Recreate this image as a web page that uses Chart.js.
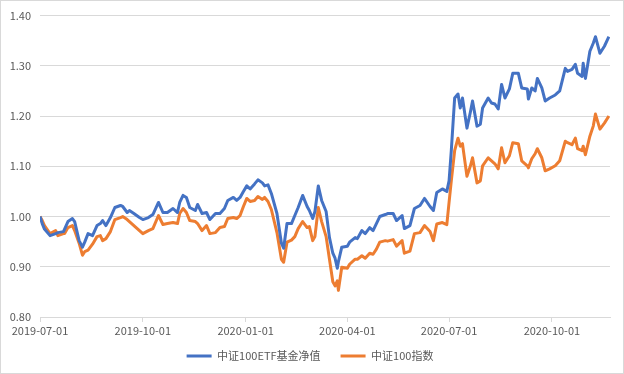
<!DOCTYPE html>
<html>
<head>
<meta charset="utf-8">
<title>中证100ETF基金净值</title>
<script src="https://cdn.jsdelivr.net/npm/chart.js@4"></script>
<style>
  html, body { margin: 0; padding: 0; background: #fff; }
  #wrap { width: 624px; height: 374px; position: relative; }
</style>
</head>
<body>
<div id="wrap"><canvas id="chart"></canvas></div>
<script>
// values (approximate)
const dates = [
  '2019-07-01','2019-07-03','2019-07-05','2019-07-10','2019-07-15','2019-07-17','2019-07-22','2019-07-23','2019-07-26','2019-07-30',
  '2019-08-01','2019-08-05','2019-08-08','2019-08-10','2019-08-13','2019-08-17','2019-08-21','2019-08-24','2019-08-26','2019-08-29',
  '2019-09-02','2019-09-06','2019-09-11','2019-09-13','2019-09-17','2019-09-19','2019-09-23','2019-09-28','2019-10-01','2019-10-06',
  '2019-10-10','2019-10-15','2019-10-19','2019-10-23','2019-10-28','2019-11-01','2019-11-03','2019-11-06','2019-11-09','2019-11-12',
  '2019-11-17','2019-11-19','2019-11-23','2019-11-27','2019-11-30','2019-12-05','2019-12-09','2019-12-13','2019-12-16','2019-12-21',
  '2019-12-24','2019-12-27','2019-12-30','2020-01-02','2020-01-05','2020-01-09','2020-01-12','2020-01-16','2020-01-18','2020-01-21',
  '2020-01-24','2020-01-29','2020-02-02','2020-02-04','2020-02-07','2020-02-11','2020-02-14','2020-02-17','2020-02-21','2020-02-25',
  '2020-02-27','2020-03-01','2020-03-03','2020-03-06','2020-03-09','2020-03-13','2020-03-16','2020-03-19','2020-03-21','2020-03-23',
  '2020-03-24','2020-03-27','2020-04-01','2020-04-03','2020-04-08','2020-04-10','2020-04-14','2020-04-17','2020-04-21','2020-04-24',
  '2020-04-27','2020-04-30','2020-05-05','2020-05-07','2020-05-12','2020-05-15','2020-05-20','2020-05-22','2020-05-27','2020-05-31',
  '2020-06-05','2020-06-09','2020-06-14','2020-06-17','2020-06-20','2020-06-25','2020-06-29','2020-07-01','2020-07-03','2020-07-06',
  '2020-07-09','2020-07-11','2020-07-13','2020-07-17','2020-07-20','2020-07-22','2020-07-26','2020-07-29','2020-07-31','2020-08-05',
  '2020-08-08','2020-08-11','2020-08-14','2020-08-17','2020-08-20','2020-08-24','2020-08-27','2020-09-01','2020-09-04','2020-09-09',
  '2020-09-10','2020-09-13','2020-09-16','2020-09-18','2020-09-22','2020-09-25','2020-09-29','2020-10-04','2020-10-08','2020-10-13',
  '2020-10-15','2020-10-19','2020-10-22','2020-10-24','2020-10-28','2020-10-29','2020-10-31','2020-11-04','2020-11-07','2020-11-09',
  '2020-11-13','2020-11-17','2020-11-21'
];

const etfNav = [
  1.000, 0.986, 0.975, 0.962, 0.966, 0.968, 0.970, 0.975, 0.990, 0.996,
  0.990, 0.952, 0.939, 0.949, 0.966, 0.962, 0.982, 0.986, 0.992, 0.982,
  0.998, 1.018, 1.022, 1.020, 1.008, 1.012, 1.006, 0.998, 0.994, 0.998,
  1.004, 1.028, 1.008, 1.008, 1.016, 1.008, 1.028, 1.042, 1.038, 1.018,
  1.012, 1.024, 1.006, 1.008, 0.994, 1.006, 1.006, 1.016, 1.032, 1.038,
  1.032, 1.038, 1.050, 1.061, 1.055, 1.065, 1.073, 1.067, 1.061, 1.063,
  1.046, 1.006, 0.947, 0.937, 0.986, 0.986, 1.002, 1.018, 1.042, 1.020,
  1.012, 0.996, 1.010, 1.061, 1.032, 1.010, 0.958, 0.927, 0.917, 0.897,
  0.910, 0.939, 0.941, 0.949, 0.958, 0.956, 0.972, 0.966, 0.978, 0.972,
  0.986, 1.000, 1.004, 1.006, 1.006, 0.992, 1.002, 0.976, 0.982, 1.016,
  1.022, 1.036, 1.020, 1.012, 1.048, 1.055, 1.050, 1.071, 1.131, 1.236,
  1.244, 1.216, 1.236, 1.176, 1.207, 1.230, 1.180, 1.184, 1.216, 1.236,
  1.226, 1.224, 1.214, 1.263, 1.236, 1.254, 1.285, 1.285, 1.256, 1.254,
  1.234, 1.256, 1.250, 1.275, 1.256, 1.230, 1.236, 1.242, 1.250, 1.295,
  1.289, 1.293, 1.303, 1.285, 1.279, 1.305, 1.275, 1.329, 1.345, 1.358,
  1.325, 1.339, 1.358
];

const indexValues = [
  1.000, 0.992, 0.982, 0.966, 0.972, 0.962, 0.966, 0.966, 0.978, 0.982,
  0.972, 0.947, 0.923, 0.930, 0.933, 0.945, 0.960, 0.962, 0.952, 0.956,
  0.970, 0.994, 0.998, 1.000, 0.994, 0.990, 0.982, 0.972, 0.966, 0.972,
  0.976, 1.002, 0.984, 0.986, 0.988, 0.986, 1.006, 1.016, 1.008, 0.992,
  0.990, 0.986, 0.972, 0.982, 0.966, 0.968, 0.978, 0.980, 0.996, 0.998,
  0.996, 1.002, 1.020, 1.036, 1.030, 1.032, 1.040, 1.034, 1.038, 1.030,
  1.014, 0.968, 0.915, 0.909, 0.949, 0.953, 0.960, 0.976, 0.990, 0.978,
  0.980, 0.952, 0.960, 1.018, 0.990, 0.960, 0.915, 0.870, 0.862, 0.872,
  0.853, 0.899, 0.897, 0.905, 0.915, 0.915, 0.922, 0.917, 0.927, 0.925,
  0.935, 0.949, 0.952, 0.951, 0.954, 0.941, 0.952, 0.927, 0.931, 0.966,
  0.968, 0.982, 0.970, 0.952, 0.985, 0.988, 0.984, 1.028, 1.071, 1.131,
  1.156, 1.140, 1.145, 1.080, 1.100, 1.117, 1.067, 1.071, 1.101, 1.117,
  1.111, 1.105, 1.095, 1.137, 1.107, 1.121, 1.147, 1.145, 1.111, 1.101,
  1.097, 1.115, 1.125, 1.135, 1.117, 1.091, 1.095, 1.101, 1.111, 1.150,
  1.147, 1.143, 1.156, 1.135, 1.131, 1.140, 1.123, 1.160, 1.180, 1.204,
  1.174, 1.186, 1.200
];

const seriesNames = ['中证100ETF基金净值', '中证100指数'];
const seriesColors = ['#4472C4', '#ED7D31'];

const xTickDates = ['2019-07-01', '2019-10-01', '2020-01-01', '2020-04-01', '2020-07-01', '2020-10-01'];
const xTickLabels = ['2019-07-01', '2019-10-01', '2020-01-01', '2020-04-01', '2020-07-01', '2020-10-01'];
const xAxisStart = '2019-07-01';
const xAxisEnd = '2020-11-22';
const yMin = 0.8, yMax = 1.4, yStep = 0.1;

const FONT = "'Noto Sans CJK SC', 'Microsoft YaHei', sans-serif";
const TEXT_COLOR = '#595959';
const GRID_COLOR = '#d9d9d9';

function toTime(s) {
    const [y, m, d] = s.split('-').map(Number);
    return Date.UTC(y, m - 1, d);
}

function toPoints(values) {
    return values.map((v, i) => ({ x: toTime(dates[i]), y: v }));
}

// white background + thin outer frame like the original
const frame = {
    id: 'frame',
    beforeDraw(chart) {
        const ctx = chart.ctx;
        ctx.save();
        ctx.fillStyle = '#fff';
        ctx.fillRect(0, 0, chart.width, chart.height);
        ctx.restore();
    },
    afterDraw(chart) {
        const ctx = chart.ctx;
        ctx.save();
        ctx.strokeStyle = GRID_COLOR;
        ctx.lineWidth = 1;
        ctx.strokeRect(0.5, 0.5, chart.width - 1, chart.height - 1);
        ctx.restore();
    }
};

// nudge the legend a bit closer to the axis labels (its padding is also the item gap)
const legendNudge = {
    id: 'legendNudge',
    afterLayout(chart) {
        const l = chart.legend;
        const dy = 8.5, dx = 5;
        l.top -= dy; l.bottom -= dy;
        l.left += dx; l.right += dx;
    }
};

const ctx = document.getElementById('chart').getContext('2d');
const chart = new Chart(ctx, {
    type: 'line',
    data: {
        datasets: [etfNav, indexValues].map((vals, i) => ({
            label: seriesNames[i],
            data: toPoints(vals),
            borderColor: seriesColors[i],
            backgroundColor: seriesColors[i],
            borderWidth: 3,
            borderJoinStyle: 'round',
            pointRadius: 0,
            tension: 0,
            fill: false
        }))
    },
    options: {
        responsive: true,
        maintainAspectRatio: false,
        animation: false,
        devicePixelRatio: 1,
        layout: { padding: { top: 14, right: 14, bottom: 4, left: 0 } },
        plugins: {
            legend: {
                position: 'bottom',
                maxHeight: 31,
                labels: {
                    usePointStyle: true,
                    pointStyle: 'line',
                    pointStyleWidth: 25,
                    padding: 20,
                    color: TEXT_COLOR,
                    font: { family: FONT, size: 11 }
                }
            },
            tooltip: { enabled: false }
        },
        scales: {
            x: {
                type: 'linear',
                min: toTime(xAxisStart),
                max: toTime(xAxisEnd),
                afterBuildTicks(scale) {
                    scale.ticks = xTickDates.map(d => ({ value: toTime(d) }));
                },
                afterFit(scale) { scale.height = 22; },
                ticks: {
                    autoSkip: false,
                    maxRotation: 0,
                    padding: 2,
                    color: TEXT_COLOR,
                    font: { family: FONT, size: 11 },
                    callback: (v, i) => xTickLabels[i]
                },
                grid: {
                    drawOnChartArea: false,
                    drawTicks: true,
                    tickLength: 5,
                    color: GRID_COLOR
                },
                border: { color: GRID_COLOR }
            },
            y: {
                min: yMin,
                max: yMax,
                afterFit(scale) { scale.width = 40; },
                ticks: {
                    stepSize: yStep,
                    padding: 9,
                    color: TEXT_COLOR,
                    font: { family: FONT, size: 11 },
                    callback: v => v.toFixed(2)
                },
                grid: { color: GRID_COLOR, drawTicks: false },
                border: { display: false }
            }
        }
    },
    plugins: [frame, legendNudge]
});
</script>
</body>
</html>
